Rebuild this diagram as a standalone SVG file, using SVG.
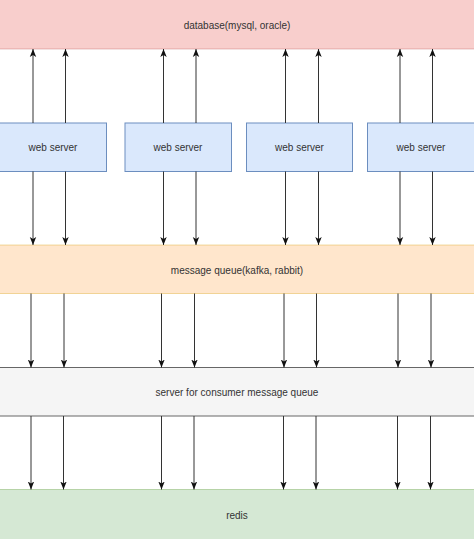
<svg xmlns="http://www.w3.org/2000/svg" width="474" height="539" viewBox="0 0 474 539">
<defs>
<style>
.t{font-family:"Liberation Sans",Arial,sans-serif;font-size:10px;fill:#333;text-anchor:middle;dominant-baseline:central}
.ws{fill:#dae8fc;stroke:#6c8ebf;stroke-width:1}
.c line{stroke:#333;stroke-width:1;marker-end:url(#ah)}
</style>
<marker id="ah" markerUnits="userSpaceOnUse" viewBox="0 0 10 10" refX="10" refY="5" markerWidth="8" markerHeight="8" orient="auto">
<path d="M0,1 L10,5 L0,9 L2.5,5 Z" fill="#111"/>
</marker>
</defs>
<rect width="474" height="539" fill="#fff"/>
<g id="database">
<rect x="-1" y="-1" width="476" height="50" fill="#f8cecc" stroke="#b85450" stroke-opacity="0.35"/>
<text class="t" x="237" y="25">database(mysql, oracle)</text>
</g>
<g id="ws1"><rect class="ws" x="-1" y="123" width="107.5" height="48.5"/><text class="t" x="53" y="147">web server</text></g>
<g id="ws2"><rect class="ws" x="125" y="123" width="106.5" height="48.5"/><text class="t" x="178" y="147">web server</text></g>
<g id="ws3"><rect class="ws" x="246.5" y="123" width="106" height="48.5"/><text class="t" x="299.5" y="147">web server</text></g>
<g id="ws4"><rect class="ws" x="367.5" y="123" width="108" height="48.5"/><text class="t" x="421" y="147">web server</text></g>
<g id="mq">
<rect x="-1" y="245" width="476" height="48.5" fill="#ffe6cc" stroke="#d79b00" stroke-opacity="0.35"/>
<text class="t" x="237" y="270">message queue(kafka, rabbit)</text>
</g>
<g id="consumer">
<rect x="-1" y="367.5" width="476" height="48.5" fill="#f5f5f5" stroke="#666"/>
<text class="t" x="237" y="392">server for consumer message queue</text>
</g>
<g id="redis">
<rect x="-1" y="489.5" width="476" height="51" fill="#d5e8d4" stroke="#82b366" stroke-opacity="0.5"/>
<text class="t" x="237" y="515">redis</text>
</g>
<g id="connectors" class="c">
<line x1="33" y1="123" x2="33" y2="49"/>
<line x1="65.5" y1="123" x2="65.5" y2="49"/>
<line x1="163.5" y1="123" x2="163.5" y2="49"/>
<line x1="196" y1="123" x2="196" y2="49"/>
<line x1="285.5" y1="123" x2="285.5" y2="49"/>
<line x1="318.5" y1="123" x2="318.5" y2="49"/>
<line x1="400" y1="123" x2="400" y2="49"/>
<line x1="432.5" y1="123" x2="432.5" y2="49"/>
<line x1="33" y1="171.5" x2="33" y2="245"/>
<line x1="65.5" y1="171.5" x2="65.5" y2="245"/>
<line x1="163.5" y1="171.5" x2="163.5" y2="245"/>
<line x1="196" y1="171.5" x2="196" y2="245"/>
<line x1="285.5" y1="171.5" x2="285.5" y2="245"/>
<line x1="318.5" y1="171.5" x2="318.5" y2="245"/>
<line x1="400" y1="171.5" x2="400" y2="245"/>
<line x1="432.5" y1="171.5" x2="432.5" y2="245"/>
<line x1="31" y1="293.5" x2="31" y2="367.5"/>
<line x1="64" y1="293.5" x2="64" y2="367.5"/>
<line x1="161.5" y1="293.5" x2="161.5" y2="367.5"/>
<line x1="194.5" y1="293.5" x2="194.5" y2="367.5"/>
<line x1="284" y1="293.5" x2="284" y2="367.5"/>
<line x1="316.5" y1="293.5" x2="316.5" y2="367.5"/>
<line x1="398" y1="293.5" x2="398" y2="367.5"/>
<line x1="431" y1="293.5" x2="431" y2="367.5"/>
<line x1="31" y1="416" x2="31" y2="489.5"/>
<line x1="63.5" y1="416" x2="63.5" y2="489.5"/>
<line x1="161.5" y1="416" x2="161.5" y2="489.5"/>
<line x1="194" y1="416" x2="194" y2="489.5"/>
<line x1="283.5" y1="416" x2="283.5" y2="489.5"/>
<line x1="316" y1="416" x2="316" y2="489.5"/>
<line x1="397.5" y1="416" x2="397.5" y2="489.5"/>
<line x1="430.5" y1="416" x2="430.5" y2="489.5"/>
</g>
</svg>
